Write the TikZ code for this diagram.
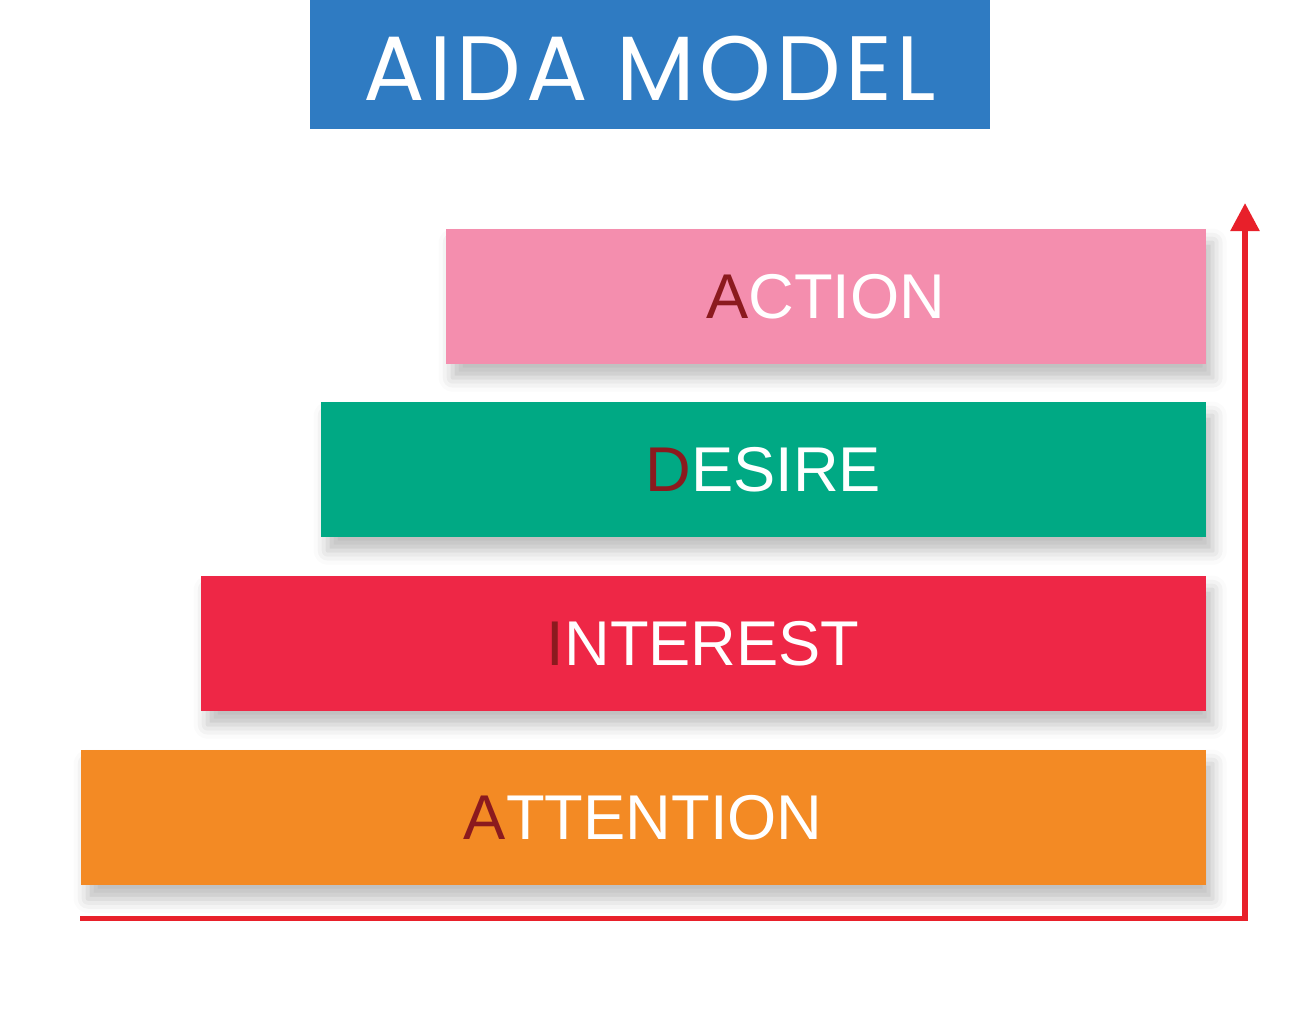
\documentclass[tikz,border=0pt]{standalone}
\usepackage{fontspec}
\setmainfont{Liberation Sans}
\newfontfamily\titlefont[LetterSpace=5]{Poppins}
\usepackage{xcolor}
\usepackage{tikz}
\usetikzlibrary{positioning,calc,arrows.meta,shadows.blur}

\definecolor{titleblue}{HTML}{2F7BC2}
\definecolor{actionpink}{HTML}{F48EAE}
\definecolor{desiregreen}{HTML}{00A984}
\definecolor{interestred}{HTML}{EE2746}
\definecolor{attentionorange}{HTML}{F38A24}
\definecolor{initialred}{HTML}{8B1A1E}
\definecolor{axisred}{HTML}{E8202A}

\begin{document}
\begin{tikzpicture}[
        bar/.style={rectangle, anchor=north west, minimum height=1.35cm, inner sep=0pt,
            text=white, font=\fontsize{18}{20}\selectfont,
            blur shadow={shadow xshift=0.07cm, shadow yshift=-0.14cm, shadow blur radius=0.14cm, shadow opacity=26}},
        headline/.style={rectangle, fill=titleblue, minimum width=6.80cm, minimum height=1.29cm,
            inner sep=0pt, text=white, font=\titlefont\fontsize{26}{28}\selectfont},
        axis/.style={draw=axisred, line width=1.6pt},
        >={Triangle[length=0.28cm, width=0.28cm]}
    ]
        \useasboundingbox (0,0) rectangle (13,-10.35);

        \node [headline] (title) at (6.50,-0.645) {};
        \node [text=white, font=\titlefont\fontsize{26}{28}\selectfont] (titletext) at (6.50,-0.69) {AIDA MODEL};

        \node [bar, fill=actionpink, minimum width=7.60cm] (action) at (4.45,-2.28)
            {\textcolor{initialred}{A}CTION};
        \node [bar, fill=desiregreen, minimum width=8.85cm] (desire) at (3.20,-4.01)
            {\textcolor{initialred}{D}ESIRE};
        \node [bar, fill=interestred, minimum width=10.05cm] (interest) at (2.00,-5.75)
            {\textcolor{initialred}{I}NTEREST};
        \node [bar, fill=attentionorange, minimum width=11.25cm] (attention) at (0.80,-7.49)
            {\textcolor{initialred}{A}TTENTION};

        \coordinate (origin) at (0.80,-9.185);
        \coordinate (corner) at (12.45,-9.185);
        \coordinate (tip) at (12.45,-2.03);

        \draw [axis, ->] (origin) -- (corner) -- (tip);

    \end{tikzpicture}
\end{document}
